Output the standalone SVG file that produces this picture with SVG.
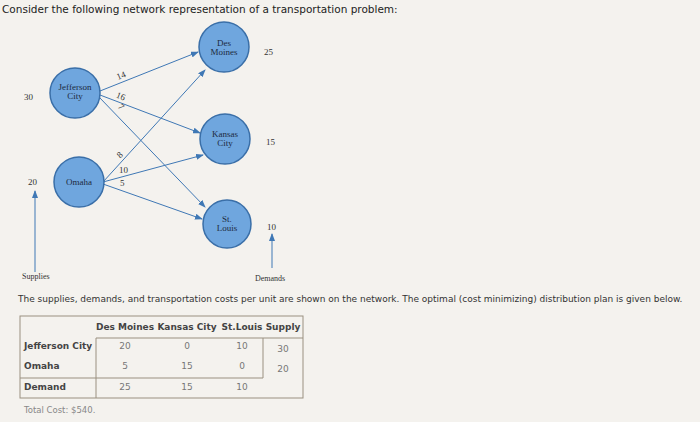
<svg xmlns="http://www.w3.org/2000/svg" width="700" height="422" viewBox="0 0 700 422">
<style>
.n{fill:#6fa6de;stroke:#3a6fa8;stroke-width:1.5}
.nt{font-family:"Liberation Serif",serif;font-size:9px;text-anchor:middle;fill:#1d2a40}
.lb{font-family:"Liberation Serif",serif;font-size:9px;fill:#333}
.e{stroke:#3f78b5;stroke-width:1;fill:none;marker-end:url(#a)}
.s{font-family:"DejaVu Sans",sans-serif;font-size:9px;fill:#333}
.tb{font-family:"DejaVu Sans",sans-serif;font-size:9px;font-weight:bold;fill:#444}
.tv{font-family:"DejaVu Sans",sans-serif;font-size:9px;fill:#777;text-anchor:middle}
.g{stroke:#9a9080;fill:none}
</style>
<defs><marker id="a" markerWidth="8" markerHeight="6" refX="7" refY="3" orient="auto" markerUnits="userSpaceOnUse"><path d="M0,0L8,3L0,6z" fill="#3f78b5"/></marker></defs>
<rect width="700" height="422" fill="#f4f2ee"/>
<text x="2" y="13" font-family="DejaVu Sans,sans-serif" font-size="10.5" fill="#222">Consider the following network representation of a transportation problem:</text>
<g id="edges">
<line class="e" x1="100" y1="91" x2="198" y2="52"/>
<line class="e" x1="100" y1="95" x2="200" y2="133"/>
<line class="e" x1="99" y1="97" x2="205" y2="207"/>
<line class="e" x1="103" y1="182" x2="205" y2="70"/>
<line class="e" x1="103" y1="182" x2="203" y2="155"/>
<line class="e" x1="103" y1="184" x2="202" y2="219"/>
<line class="e" x1="35" y1="272" x2="35" y2="191"/>
<line class="e" x1="272" y1="268" x2="272" y2="234"/>
</g>
<g id="elabels" class="lb">
<text x="117" y="79" transform="rotate(-22 120 77)">14</text>
<text x="116" y="99" transform="rotate(22 120 97)">16</text>
<text x="118" y="110" transform="rotate(45 121 108)">7</text>
<text x="118" y="157" transform="rotate(-45 121 155)">8</text>
<text x="119" y="173">10</text>
<text x="120" y="186">5</text>
</g>
<g id="jc"><circle class="n" cx="75" cy="93" r="25"/><text class="nt" x="75" y="90">Jefferson</text><text class="nt" x="75" y="99">City</text></g>
<g id="om"><circle class="n" cx="79" cy="182" r="25"/><text class="nt" x="79" y="185">Omaha</text></g>
<g id="dm"><circle class="n" cx="224" cy="47" r="25"/><text class="nt" x="224" y="46">Des</text><text class="nt" x="224" y="55">Moines</text></g>
<g id="kc"><circle class="n" cx="225" cy="139" r="25"/><text class="nt" x="225" y="137">Kansas</text><text class="nt" x="225" y="146">City</text></g>
<g id="sl"><circle class="n" cx="227" cy="224" r="24"/><text class="nt" x="227" y="222">St.</text><text class="nt" x="227" y="231">Louis</text></g>
<g class="lb">
<text x="24" y="100">30</text><text x="28" y="185">20</text>
<text x="264" y="55">25</text><text x="266" y="145">15</text><text x="267" y="230">10</text>
<text x="22" y="279" font-size="8">Supplies</text><text x="255" y="281" font-size="8">Demands</text>
</g>
<text class="s" x="18" y="302">The supplies, demands, and transportation costs per unit are shown on the network. The optimal (cost minimizing) distribution plan is given below.</text>
<g id="table">
<rect class="g" x="20" y="316" width="283" height="82"/>
<line class="g" x1="96" y1="338" x2="303" y2="338"/>
<line class="g" x1="96" y1="338" x2="96" y2="398"/>
<line class="g" x1="20" y1="378" x2="263" y2="378"/>
<line class="g" x1="263" y1="338" x2="263" y2="378"/>
<text class="tb" x="125" y="330" text-anchor="middle">Des Moines</text>
<text class="tb" x="187" y="330" text-anchor="middle">Kansas City</text>
<text class="tb" x="242" y="330" text-anchor="middle">St.Louis</text>
<text class="tb" x="283" y="330" text-anchor="middle">Supply</text>
<text class="tb" x="24" y="349">Jefferson City</text>
<text class="tb" x="24" y="369">Omaha</text>
<text class="tb" x="24" y="390">Demand</text>
<text class="tv" x="125" y="349">20</text><text class="tv" x="187" y="349">0</text><text class="tv" x="242" y="349">10</text><text class="tv" x="283" y="352">30</text>
<text class="tv" x="125" y="369">5</text><text class="tv" x="187" y="369">15</text><text class="tv" x="242" y="369">0</text><text class="tv" x="283" y="372">20</text>
<text class="tv" x="125" y="390">25</text><text class="tv" x="187" y="390">15</text><text class="tv" x="242" y="390">10</text>
</g>
<text x="24" y="413" font-family="DejaVu Sans,sans-serif" font-size="8.5" fill="#888">Total Cost: $540.</text>
</svg>
